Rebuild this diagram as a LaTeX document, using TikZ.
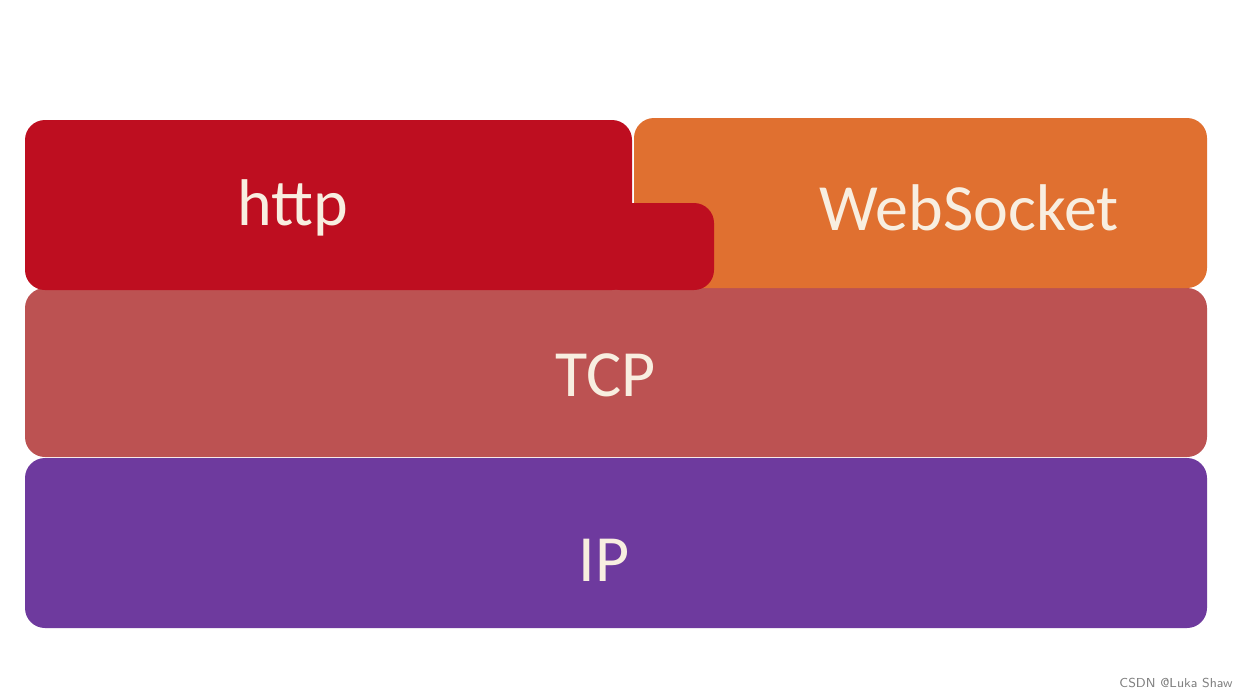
\documentclass[tikz,border=0pt]{standalone}
\usepackage{fontspec}
\setmainfont{Carlito}
\definecolor{httpred}{HTML}{BE0E20}
\definecolor{wsorange}{HTML}{E07030}
\definecolor{tcpred}{HTML}{BC5252}
\definecolor{ippurple}{HTML}{6E3A9E}
\definecolor{txt}{HTML}{F8EEE0}
\tikzset{layer/.style={rounded corners=10pt},
  lbl/.style={text=txt,font=\fontsize{33}{36}\selectfont,inner sep=0pt}}
\begin{document}
\begin{tikzpicture}[x=0.5pt,y=-0.5pt]
\useasboundingbox[fill=white] (0,0) rectangle (1248,698);
\fill[layer,ippurple] (25,458) rectangle (1207,628);
\fill[layer,tcpred] (25,288) rectangle (1207,457);
\fill[layer,wsorange] (634,118) rectangle (1207,288);
\fill[layer,httpred] (25,120) rectangle (632,290);
\fill[layer,httpred] (600,203) rectangle (714,290);
\node[lbl] (http) at (293,208) {http};
\node[lbl] (ws) at (969,208) {WebSocket};
\node[lbl] (tcp) at (606,375) {TCP};
\node[lbl] (ip) at (604,560) {IP};
\node[text=gray,font=\fontsize{6.5}{7}\selectfont\sffamily,anchor=east,inner sep=0pt] (wm) at (1233,683) {CSDN @Luka Shaw};
\end{tikzpicture}
\end{document}
